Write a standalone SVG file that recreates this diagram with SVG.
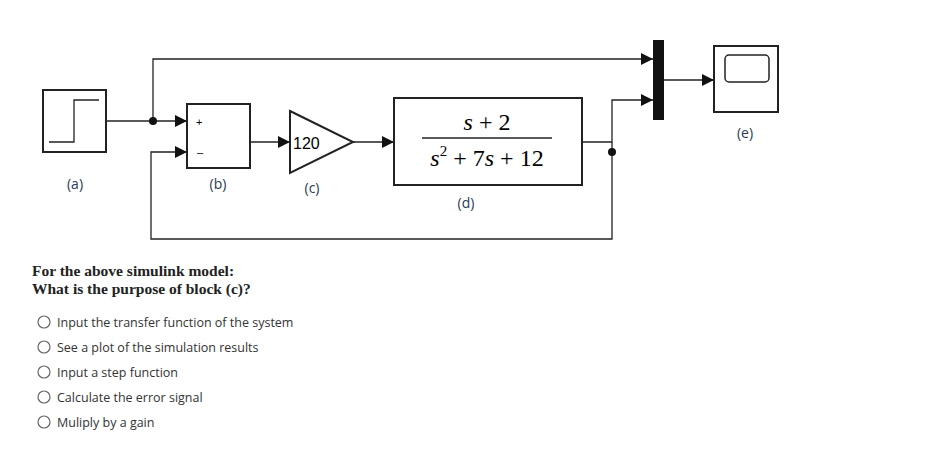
<svg xmlns="http://www.w3.org/2000/svg" width="937" height="460" viewBox="0 0 937 460">
<style>
.b{fill:#fff;stroke:#222;stroke-width:2}
.w{fill:none;stroke:#222;stroke-width:1.3}
.l{font-family:"Open Sans",sans-serif;font-size:14px;fill:#2a3a55;text-anchor:middle}
.q{font-family:"Liberation Serif",serif;font-size:15.5px;font-weight:bold;fill:#222}
.o{font-family:"Open Sans",sans-serif;font-size:12.5px;fill:#333}
.r{fill:#fff;stroke:#666;stroke-width:1.2}
</style>
<defs><marker id="a" markerWidth="12" markerHeight="12" refX="12" refY="6" orient="auto" markerUnits="userSpaceOnUse"><path d="M0,0L12,6L0,12z" fill="#111"/></marker></defs>
<rect width="937" height="460" fill="#fff"/>
<g id="connectors">
<path class="w" d="M106,121H187" marker-end="url(#a)"/>
<path class="w" d="M153,121V59H653" marker-end="url(#a)"/>
<path class="w" d="M612,142V239H151V152H187" marker-end="url(#a)"/>
<path class="w" d="M250,142H290" marker-end="url(#a)"/>
<path class="w" d="M353,142H394" marker-end="url(#a)"/>
<path class="w" d="M582,142H612V100H653" marker-end="url(#a)"/>
<path class="w" d="M664,80H714" marker-end="url(#a)"/>
<circle cx="153" cy="121" r="4" fill="#111"/>
<circle cx="612" cy="152" r="4" fill="#111"/>
</g>
<g id="a-step"><rect class="b" x="43" y="90" width="63" height="62"/><path class="w" d="M49,142H74V100H99"/><text class="l" x="75" y="189">(a)</text></g>
<g id="b-sum"><rect class="b" x="187" y="104" width="63" height="64"/><text x="196" y="126" font-family="Liberation Sans,sans-serif" font-size="11">+</text><text x="197" y="156" font-family="Liberation Sans,sans-serif" font-size="11">–</text><text class="l" x="218" y="189">(b)</text></g>
<g id="c-gain"><path class="b" d="M290,111L353,142L290,173z"/><text x="293" y="149" font-family="Liberation Sans,sans-serif" font-size="16">120</text><text class="l" x="312" y="193">(c)</text></g>
<g id="d-tf"><rect class="b" x="394" y="98" width="188" height="87"/><text x="487" y="130" text-anchor="middle" font-family="Liberation Serif,serif" font-size="24"><tspan font-style="italic">s</tspan> + 2</text><path d="M422,138H552" stroke="#222" stroke-width="1.3"/><text x="487" y="166" text-anchor="middle" font-family="Liberation Serif,serif" font-size="24"><tspan font-style="italic">s</tspan><tspan font-size="15" dy="-10">2</tspan><tspan dy="10"> + 7</tspan><tspan font-style="italic">s</tspan> + 12</text><text class="l" x="466" y="208">(d)</text></g>
<g id="mux"><rect x="653" y="40" width="11" height="80" fill="#111"/></g>
<g id="e-scope"><rect class="b" x="714" y="46" width="64" height="66" stroke-width="1.5"/><rect x="725" y="55" width="44" height="27" rx="4" fill="none" stroke="#222" stroke-width="1.5"/><text class="l" x="745" y="138">(e)</text></g>
<text class="q" x="32" y="276">For the above simulink model:</text>
<text class="q" x="32" y="294">What is the purpose of block (c)?</text>
<circle class="r" cx="44" cy="322" r="6"/><text class="o" x="57" y="327">Input the transfer function of the system</text>
<circle class="r" cx="44" cy="347" r="6"/><text class="o" x="57" y="352">See a plot of the simulation results</text>
<circle class="r" cx="44" cy="372" r="6"/><text class="o" x="57" y="377">Input a step function</text>
<circle class="r" cx="44" cy="397" r="6"/><text class="o" x="57" y="402">Calculate the error signal</text>
<circle class="r" cx="44" cy="422" r="6"/><text class="o" x="57" y="427">Muliply by a gain</text>
</svg>
